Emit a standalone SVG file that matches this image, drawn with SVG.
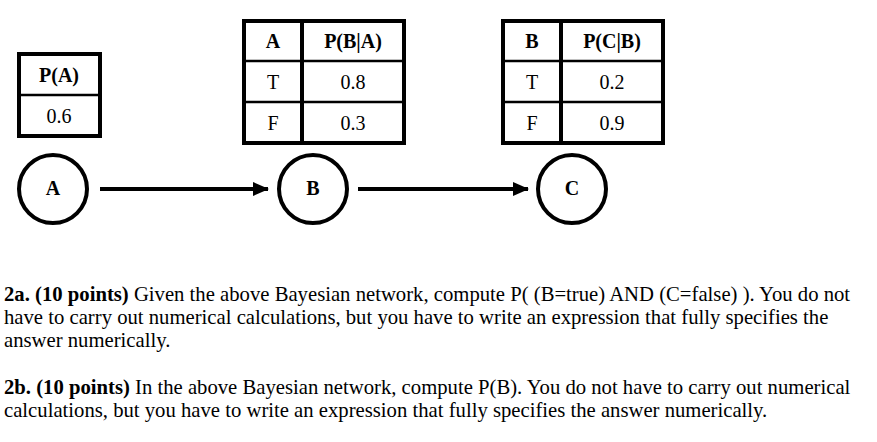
<svg xmlns="http://www.w3.org/2000/svg" width="877" height="442" viewBox="0 0 877 442">
<style>
.t{fill:none;stroke:#000;stroke-width:4}
.g{stroke:#000;stroke-width:2.5}
text{font-family:"Liberation Serif","Times New Roman",serif;fill:#000}
.c{text-anchor:middle;font-size:20px}
.b{font-weight:bold}
.p{font-size:20.7px}
</style>
<defs><marker id="ah" markerWidth="16" markerHeight="14" refX="15" refY="7" orient="auto" markerUnits="userSpaceOnUse"><path d="M0,0L16,7L0,14z"/></marker></defs>
<rect width="877" height="442" fill="#fff"/>
<g id="tableA">
<rect class="t" x="19" y="54" width="81" height="82"/>
<line class="g" x1="19" y1="95" x2="100" y2="95"/>
<text class="c b" x="59" y="82">P(A)</text>
<text class="c" x="59" y="123">0.6</text>
</g>
<g id="tableB">
<rect class="t" x="244" y="21" width="160" height="122"/>
<line class="t" x1="302" y1="21" x2="302" y2="143"/>
<line class="g" x1="244" y1="61" x2="404" y2="61"/>
<line class="g" x1="244" y1="102" x2="404" y2="102"/>
<text class="c b" x="273" y="48">A</text><text class="c b" x="353" y="48">P(B|A)</text>
<text class="c" x="273" y="89">T</text><text class="c" x="353" y="89">0.8</text>
<text class="c" x="273" y="130">F</text><text class="c" x="353" y="130">0.3</text>
</g>
<g id="tableC">
<rect class="t" x="503" y="21" width="160" height="122"/>
<line class="t" x1="561" y1="21" x2="561" y2="143"/>
<line class="g" x1="503" y1="61" x2="663" y2="61"/>
<line class="g" x1="503" y1="102" x2="663" y2="102"/>
<text class="c b" x="532" y="48">B</text><text class="c b" x="612" y="48">P(C|B)</text>
<text class="c" x="532" y="89">T</text><text class="c" x="612" y="89">0.2</text>
<text class="c" x="532" y="130">F</text><text class="c" x="612" y="130">0.9</text>
</g>
<g id="A"><circle class="t" cx="53" cy="189" r="34"/><text class="c b" x="53" y="195">A</text></g>
<g id="B"><circle class="t" cx="313" cy="189" r="34"/><text class="c b" x="313" y="195">B</text></g>
<g id="C"><circle class="t" cx="572" cy="189" r="34"/><text class="c b" x="572" y="195">C</text></g>
<g id="connectors" stroke="#000" stroke-width="4">
<line x1="100" y1="189" x2="268" y2="189" marker-end="url(#ah)"/>
<line x1="358" y1="189" x2="528" y2="189" marker-end="url(#ah)"/>
</g>
<g class="p">
<text x="4" y="301"><tspan class="b">2a. (10 points)</tspan> Given the above Bayesian network, compute P( (B=true) AND (C=false) ). You do not</text>
<text x="4" y="324">have to carry out numerical calculations, but you have to write an expression that fully specifies the</text>
<text x="4" y="347">answer numerically.</text>
<text x="4" y="394"><tspan class="b">2b. (10 points)</tspan> In the above Bayesian network, compute P(B). You do not have to carry out numerical</text>
<text x="4" y="417">calculations, but you have to write an expression that fully specifies the answer numerically.</text>
</g>
</svg>
